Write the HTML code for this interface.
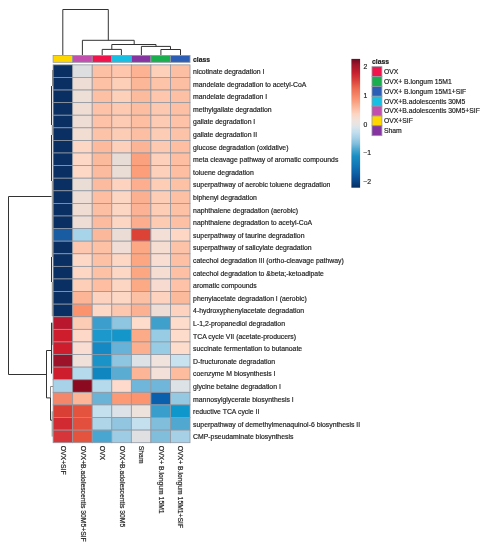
<!DOCTYPE html><html><head><meta charset="utf-8"><style>html,body{margin:0;padding:0;background:#fff;}svg{display:block;font-family:"Liberation Sans",sans-serif;will-change:transform;} text{stroke:#222;stroke-width:0.18px;}</style></head><body>
<svg width="486" height="550" viewBox="0 0 486 550">
<rect width="486" height="550" fill="#fff"/>
<rect x="53.10" y="64.85" width="19.56" height="12.60" fill="#0A2F62" stroke="#9298a2" stroke-width="0.8"/>
<rect x="72.66" y="64.85" width="19.56" height="12.60" fill="#DCDEDF" stroke="#9298a2" stroke-width="0.8"/>
<rect x="92.22" y="64.85" width="19.56" height="12.60" fill="#FDC0A5" stroke="#9298a2" stroke-width="0.8"/>
<rect x="111.78" y="64.85" width="19.56" height="12.60" fill="#FDC6AD" stroke="#9298a2" stroke-width="0.8"/>
<rect x="131.34" y="64.85" width="19.56" height="12.60" fill="#FCB293" stroke="#9298a2" stroke-width="0.8"/>
<rect x="150.90" y="64.85" width="19.56" height="12.60" fill="#FDD0BA" stroke="#9298a2" stroke-width="0.8"/>
<rect x="170.46" y="64.85" width="19.56" height="12.60" fill="#FDBFA3" stroke="#9298a2" stroke-width="0.8"/>
<rect x="53.10" y="77.44" width="19.56" height="12.60" fill="#0A2F62" stroke="#9298a2" stroke-width="0.8"/>
<rect x="72.66" y="77.44" width="19.56" height="12.60" fill="#EDDDD5" stroke="#9298a2" stroke-width="0.8"/>
<rect x="92.22" y="77.44" width="19.56" height="12.60" fill="#FDC1A6" stroke="#9298a2" stroke-width="0.8"/>
<rect x="111.78" y="77.44" width="19.56" height="12.60" fill="#FDCFB9" stroke="#9298a2" stroke-width="0.8"/>
<rect x="131.34" y="77.44" width="19.56" height="12.60" fill="#FCB698" stroke="#9298a2" stroke-width="0.8"/>
<rect x="150.90" y="77.44" width="19.56" height="12.60" fill="#FDC4AA" stroke="#9298a2" stroke-width="0.8"/>
<rect x="170.46" y="77.44" width="19.56" height="12.60" fill="#FDBFA3" stroke="#9298a2" stroke-width="0.8"/>
<rect x="53.10" y="90.04" width="19.56" height="12.60" fill="#0A2F62" stroke="#9298a2" stroke-width="0.8"/>
<rect x="72.66" y="90.04" width="19.56" height="12.60" fill="#EDDED6" stroke="#9298a2" stroke-width="0.8"/>
<rect x="92.22" y="90.04" width="19.56" height="12.60" fill="#FDC0A5" stroke="#9298a2" stroke-width="0.8"/>
<rect x="111.78" y="90.04" width="19.56" height="12.60" fill="#FDD0BA" stroke="#9298a2" stroke-width="0.8"/>
<rect x="131.34" y="90.04" width="19.56" height="12.60" fill="#FDBB9E" stroke="#9298a2" stroke-width="0.8"/>
<rect x="150.90" y="90.04" width="19.56" height="12.60" fill="#FDC6AD" stroke="#9298a2" stroke-width="0.8"/>
<rect x="170.46" y="90.04" width="19.56" height="12.60" fill="#FDC0A5" stroke="#9298a2" stroke-width="0.8"/>
<rect x="53.10" y="102.63" width="19.56" height="12.60" fill="#0A2F62" stroke="#9298a2" stroke-width="0.8"/>
<rect x="72.66" y="102.63" width="19.56" height="12.60" fill="#EFDDD4" stroke="#9298a2" stroke-width="0.8"/>
<rect x="92.22" y="102.63" width="19.56" height="12.60" fill="#FDC2A7" stroke="#9298a2" stroke-width="0.8"/>
<rect x="111.78" y="102.63" width="19.56" height="12.60" fill="#FDC9B1" stroke="#9298a2" stroke-width="0.8"/>
<rect x="131.34" y="102.63" width="19.56" height="12.60" fill="#FDBDA1" stroke="#9298a2" stroke-width="0.8"/>
<rect x="150.90" y="102.63" width="19.56" height="12.60" fill="#FDC8B0" stroke="#9298a2" stroke-width="0.8"/>
<rect x="170.46" y="102.63" width="19.56" height="12.60" fill="#FDC0A5" stroke="#9298a2" stroke-width="0.8"/>
<rect x="53.10" y="115.23" width="19.56" height="12.60" fill="#0A2F62" stroke="#9298a2" stroke-width="0.8"/>
<rect x="72.66" y="115.23" width="19.56" height="12.60" fill="#EEDDD4" stroke="#9298a2" stroke-width="0.8"/>
<rect x="92.22" y="115.23" width="19.56" height="12.60" fill="#FDC2A7" stroke="#9298a2" stroke-width="0.8"/>
<rect x="111.78" y="115.23" width="19.56" height="12.60" fill="#FDCAB3" stroke="#9298a2" stroke-width="0.8"/>
<rect x="131.34" y="115.23" width="19.56" height="12.60" fill="#FDBEA2" stroke="#9298a2" stroke-width="0.8"/>
<rect x="150.90" y="115.23" width="19.56" height="12.60" fill="#FDCBB4" stroke="#9298a2" stroke-width="0.8"/>
<rect x="170.46" y="115.23" width="19.56" height="12.60" fill="#FDC2A7" stroke="#9298a2" stroke-width="0.8"/>
<rect x="53.10" y="127.82" width="19.56" height="12.60" fill="#0A2F62" stroke="#9298a2" stroke-width="0.8"/>
<rect x="72.66" y="127.82" width="19.56" height="12.60" fill="#F2DDD3" stroke="#9298a2" stroke-width="0.8"/>
<rect x="92.22" y="127.82" width="19.56" height="12.60" fill="#FDC3A8" stroke="#9298a2" stroke-width="0.8"/>
<rect x="111.78" y="127.82" width="19.56" height="12.60" fill="#FDCCB5" stroke="#9298a2" stroke-width="0.8"/>
<rect x="131.34" y="127.82" width="19.56" height="12.60" fill="#FDBFA3" stroke="#9298a2" stroke-width="0.8"/>
<rect x="150.90" y="127.82" width="19.56" height="12.60" fill="#FDCCB5" stroke="#9298a2" stroke-width="0.8"/>
<rect x="170.46" y="127.82" width="19.56" height="12.60" fill="#FDC3A8" stroke="#9298a2" stroke-width="0.8"/>
<rect x="53.10" y="140.42" width="19.56" height="12.60" fill="#0A2F62" stroke="#9298a2" stroke-width="0.8"/>
<rect x="72.66" y="140.42" width="19.56" height="12.60" fill="#FDD6C4" stroke="#9298a2" stroke-width="0.8"/>
<rect x="92.22" y="140.42" width="19.56" height="12.60" fill="#FDBA9D" stroke="#9298a2" stroke-width="0.8"/>
<rect x="111.78" y="140.42" width="19.56" height="12.60" fill="#FDD0BC" stroke="#9298a2" stroke-width="0.8"/>
<rect x="131.34" y="140.42" width="19.56" height="12.60" fill="#FCB496" stroke="#9298a2" stroke-width="0.8"/>
<rect x="150.90" y="140.42" width="19.56" height="12.60" fill="#FDC9B1" stroke="#9298a2" stroke-width="0.8"/>
<rect x="170.46" y="140.42" width="19.56" height="12.60" fill="#FDBEA2" stroke="#9298a2" stroke-width="0.8"/>
<rect x="53.10" y="153.01" width="19.56" height="12.60" fill="#0A2F62" stroke="#9298a2" stroke-width="0.8"/>
<rect x="72.66" y="153.01" width="19.56" height="12.60" fill="#FDD8C6" stroke="#9298a2" stroke-width="0.8"/>
<rect x="92.22" y="153.01" width="19.56" height="12.60" fill="#FCBA9D" stroke="#9298a2" stroke-width="0.8"/>
<rect x="111.78" y="153.01" width="19.56" height="12.60" fill="#E8DCD6" stroke="#9298a2" stroke-width="0.8"/>
<rect x="131.34" y="153.01" width="19.56" height="12.60" fill="#FCA17D" stroke="#9298a2" stroke-width="0.8"/>
<rect x="150.90" y="153.01" width="19.56" height="12.60" fill="#FDD0BB" stroke="#9298a2" stroke-width="0.8"/>
<rect x="170.46" y="153.01" width="19.56" height="12.60" fill="#FDBEA2" stroke="#9298a2" stroke-width="0.8"/>
<rect x="53.10" y="165.61" width="19.56" height="12.60" fill="#0A2F62" stroke="#9298a2" stroke-width="0.8"/>
<rect x="72.66" y="165.61" width="19.56" height="12.60" fill="#FDD8C6" stroke="#9298a2" stroke-width="0.8"/>
<rect x="92.22" y="165.61" width="19.56" height="12.60" fill="#FCBB9E" stroke="#9298a2" stroke-width="0.8"/>
<rect x="111.78" y="165.61" width="19.56" height="12.60" fill="#EADDD6" stroke="#9298a2" stroke-width="0.8"/>
<rect x="131.34" y="165.61" width="19.56" height="12.60" fill="#FB9E79" stroke="#9298a2" stroke-width="0.8"/>
<rect x="150.90" y="165.61" width="19.56" height="12.60" fill="#FDD0BB" stroke="#9298a2" stroke-width="0.8"/>
<rect x="170.46" y="165.61" width="19.56" height="12.60" fill="#FDBEA2" stroke="#9298a2" stroke-width="0.8"/>
<rect x="53.10" y="178.20" width="19.56" height="12.60" fill="#0A2F62" stroke="#9298a2" stroke-width="0.8"/>
<rect x="72.66" y="178.20" width="19.56" height="12.60" fill="#EADDD6" stroke="#9298a2" stroke-width="0.8"/>
<rect x="92.22" y="178.20" width="19.56" height="12.60" fill="#FCBB9E" stroke="#9298a2" stroke-width="0.8"/>
<rect x="111.78" y="178.20" width="19.56" height="12.60" fill="#FDD3C0" stroke="#9298a2" stroke-width="0.8"/>
<rect x="131.34" y="178.20" width="19.56" height="12.60" fill="#FCAE8E" stroke="#9298a2" stroke-width="0.8"/>
<rect x="150.90" y="178.20" width="19.56" height="12.60" fill="#FDCDB6" stroke="#9298a2" stroke-width="0.8"/>
<rect x="170.46" y="178.20" width="19.56" height="12.60" fill="#FDC1A6" stroke="#9298a2" stroke-width="0.8"/>
<rect x="53.10" y="190.80" width="19.56" height="12.60" fill="#0A2F62" stroke="#9298a2" stroke-width="0.8"/>
<rect x="72.66" y="190.80" width="19.56" height="12.60" fill="#EDDDD4" stroke="#9298a2" stroke-width="0.8"/>
<rect x="92.22" y="190.80" width="19.56" height="12.60" fill="#FDBEA2" stroke="#9298a2" stroke-width="0.8"/>
<rect x="111.78" y="190.80" width="19.56" height="12.60" fill="#FDD5C3" stroke="#9298a2" stroke-width="0.8"/>
<rect x="131.34" y="190.80" width="19.56" height="12.60" fill="#FCB092" stroke="#9298a2" stroke-width="0.8"/>
<rect x="150.90" y="190.80" width="19.56" height="12.60" fill="#FDCDB6" stroke="#9298a2" stroke-width="0.8"/>
<rect x="170.46" y="190.80" width="19.56" height="12.60" fill="#FDC0A5" stroke="#9298a2" stroke-width="0.8"/>
<rect x="53.10" y="203.40" width="19.56" height="12.60" fill="#0A2F62" stroke="#9298a2" stroke-width="0.8"/>
<rect x="72.66" y="203.40" width="19.56" height="12.60" fill="#EFDDD4" stroke="#9298a2" stroke-width="0.8"/>
<rect x="92.22" y="203.40" width="19.56" height="12.60" fill="#FDBFA3" stroke="#9298a2" stroke-width="0.8"/>
<rect x="111.78" y="203.40" width="19.56" height="12.60" fill="#FDD5C3" stroke="#9298a2" stroke-width="0.8"/>
<rect x="131.34" y="203.40" width="19.56" height="12.60" fill="#FCB395" stroke="#9298a2" stroke-width="0.8"/>
<rect x="150.90" y="203.40" width="19.56" height="12.60" fill="#FDCDB6" stroke="#9298a2" stroke-width="0.8"/>
<rect x="170.46" y="203.40" width="19.56" height="12.60" fill="#FDC1A6" stroke="#9298a2" stroke-width="0.8"/>
<rect x="53.10" y="215.99" width="19.56" height="12.60" fill="#0A2F62" stroke="#9298a2" stroke-width="0.8"/>
<rect x="72.66" y="215.99" width="19.56" height="12.60" fill="#EDDDD5" stroke="#9298a2" stroke-width="0.8"/>
<rect x="92.22" y="215.99" width="19.56" height="12.60" fill="#FCBB9E" stroke="#9298a2" stroke-width="0.8"/>
<rect x="111.78" y="215.99" width="19.56" height="12.60" fill="#FDD5C3" stroke="#9298a2" stroke-width="0.8"/>
<rect x="131.34" y="215.99" width="19.56" height="12.60" fill="#FCAD8D" stroke="#9298a2" stroke-width="0.8"/>
<rect x="150.90" y="215.99" width="19.56" height="12.60" fill="#FDCAB2" stroke="#9298a2" stroke-width="0.8"/>
<rect x="170.46" y="215.99" width="19.56" height="12.60" fill="#FDC0A5" stroke="#9298a2" stroke-width="0.8"/>
<rect x="53.10" y="228.59" width="19.56" height="12.60" fill="#1A5CA2" stroke="#9298a2" stroke-width="0.8"/>
<rect x="72.66" y="228.59" width="19.56" height="12.60" fill="#A8D4EA" stroke="#9298a2" stroke-width="0.8"/>
<rect x="92.22" y="228.59" width="19.56" height="12.60" fill="#FCB89B" stroke="#9298a2" stroke-width="0.8"/>
<rect x="111.78" y="228.59" width="19.56" height="12.60" fill="#EBDDD6" stroke="#9298a2" stroke-width="0.8"/>
<rect x="131.34" y="228.59" width="19.56" height="12.60" fill="#DC4236" stroke="#9298a2" stroke-width="0.8"/>
<rect x="150.90" y="228.59" width="19.56" height="12.60" fill="#F4DFD6" stroke="#9298a2" stroke-width="0.8"/>
<rect x="170.46" y="228.59" width="19.56" height="12.60" fill="#FDD6C4" stroke="#9298a2" stroke-width="0.8"/>
<rect x="53.10" y="241.18" width="19.56" height="12.60" fill="#0A2F62" stroke="#9298a2" stroke-width="0.8"/>
<rect x="72.66" y="241.18" width="19.56" height="12.60" fill="#FDC7AF" stroke="#9298a2" stroke-width="0.8"/>
<rect x="92.22" y="241.18" width="19.56" height="12.60" fill="#FDC1A6" stroke="#9298a2" stroke-width="0.8"/>
<rect x="111.78" y="241.18" width="19.56" height="12.60" fill="#F0DED6" stroke="#9298a2" stroke-width="0.8"/>
<rect x="131.34" y="241.18" width="19.56" height="12.60" fill="#FCA884" stroke="#9298a2" stroke-width="0.8"/>
<rect x="150.90" y="241.18" width="19.56" height="12.60" fill="#F6DDD2" stroke="#9298a2" stroke-width="0.8"/>
<rect x="170.46" y="241.18" width="19.56" height="12.60" fill="#FDC3A8" stroke="#9298a2" stroke-width="0.8"/>
<rect x="53.10" y="253.78" width="19.56" height="12.60" fill="#0A2F62" stroke="#9298a2" stroke-width="0.8"/>
<rect x="72.66" y="253.78" width="19.56" height="12.60" fill="#FDD8C6" stroke="#9298a2" stroke-width="0.8"/>
<rect x="92.22" y="253.78" width="19.56" height="12.60" fill="#FDC1A6" stroke="#9298a2" stroke-width="0.8"/>
<rect x="111.78" y="253.78" width="19.56" height="12.60" fill="#FDD6C4" stroke="#9298a2" stroke-width="0.8"/>
<rect x="131.34" y="253.78" width="19.56" height="12.60" fill="#FCA682" stroke="#9298a2" stroke-width="0.8"/>
<rect x="150.90" y="253.78" width="19.56" height="12.60" fill="#F8DDD2" stroke="#9298a2" stroke-width="0.8"/>
<rect x="170.46" y="253.78" width="19.56" height="12.60" fill="#FDC0A5" stroke="#9298a2" stroke-width="0.8"/>
<rect x="53.10" y="266.37" width="19.56" height="12.60" fill="#0A2F62" stroke="#9298a2" stroke-width="0.8"/>
<rect x="72.66" y="266.37" width="19.56" height="12.60" fill="#FDD6C4" stroke="#9298a2" stroke-width="0.8"/>
<rect x="92.22" y="266.37" width="19.56" height="12.60" fill="#FDC1A6" stroke="#9298a2" stroke-width="0.8"/>
<rect x="111.78" y="266.37" width="19.56" height="12.60" fill="#FDD6C4" stroke="#9298a2" stroke-width="0.8"/>
<rect x="131.34" y="266.37" width="19.56" height="12.60" fill="#FCA682" stroke="#9298a2" stroke-width="0.8"/>
<rect x="150.90" y="266.37" width="19.56" height="12.60" fill="#F6DDD2" stroke="#9298a2" stroke-width="0.8"/>
<rect x="170.46" y="266.37" width="19.56" height="12.60" fill="#FDC0A5" stroke="#9298a2" stroke-width="0.8"/>
<rect x="53.10" y="278.97" width="19.56" height="12.60" fill="#0A2F62" stroke="#9298a2" stroke-width="0.8"/>
<rect x="72.66" y="278.97" width="19.56" height="12.60" fill="#FDCEB8" stroke="#9298a2" stroke-width="0.8"/>
<rect x="92.22" y="278.97" width="19.56" height="12.60" fill="#FDBEA2" stroke="#9298a2" stroke-width="0.8"/>
<rect x="111.78" y="278.97" width="19.56" height="12.60" fill="#FDD5C3" stroke="#9298a2" stroke-width="0.8"/>
<rect x="131.34" y="278.97" width="19.56" height="12.60" fill="#FCA985" stroke="#9298a2" stroke-width="0.8"/>
<rect x="150.90" y="278.97" width="19.56" height="12.60" fill="#F8DBD0" stroke="#9298a2" stroke-width="0.8"/>
<rect x="170.46" y="278.97" width="19.56" height="12.60" fill="#FDC2A7" stroke="#9298a2" stroke-width="0.8"/>
<rect x="53.10" y="291.56" width="19.56" height="12.60" fill="#0A2F62" stroke="#9298a2" stroke-width="0.8"/>
<rect x="72.66" y="291.56" width="19.56" height="12.60" fill="#FCB597" stroke="#9298a2" stroke-width="0.8"/>
<rect x="92.22" y="291.56" width="19.56" height="12.60" fill="#FDD2BE" stroke="#9298a2" stroke-width="0.8"/>
<rect x="111.78" y="291.56" width="19.56" height="12.60" fill="#FDD6C4" stroke="#9298a2" stroke-width="0.8"/>
<rect x="131.34" y="291.56" width="19.56" height="12.60" fill="#FCC0A4" stroke="#9298a2" stroke-width="0.8"/>
<rect x="150.90" y="291.56" width="19.56" height="12.60" fill="#FDD2BE" stroke="#9298a2" stroke-width="0.8"/>
<rect x="170.46" y="291.56" width="19.56" height="12.60" fill="#FCBA9D" stroke="#9298a2" stroke-width="0.8"/>
<rect x="53.10" y="304.15" width="19.56" height="12.60" fill="#0A2F62" stroke="#9298a2" stroke-width="0.8"/>
<rect x="72.66" y="304.15" width="19.56" height="12.60" fill="#FB946E" stroke="#9298a2" stroke-width="0.8"/>
<rect x="92.22" y="304.15" width="19.56" height="12.60" fill="#FDD8C6" stroke="#9298a2" stroke-width="0.8"/>
<rect x="111.78" y="304.15" width="19.56" height="12.60" fill="#FDC6AE" stroke="#9298a2" stroke-width="0.8"/>
<rect x="131.34" y="304.15" width="19.56" height="12.60" fill="#FCB193" stroke="#9298a2" stroke-width="0.8"/>
<rect x="150.90" y="304.15" width="19.56" height="12.60" fill="#EEDDD5" stroke="#9298a2" stroke-width="0.8"/>
<rect x="170.46" y="304.15" width="19.56" height="12.60" fill="#FDD3BF" stroke="#9298a2" stroke-width="0.8"/>
<rect x="53.10" y="316.75" width="19.56" height="12.60" fill="#B8172D" stroke="#9298a2" stroke-width="0.8"/>
<rect x="72.66" y="316.75" width="19.56" height="12.60" fill="#FDCCB5" stroke="#9298a2" stroke-width="0.8"/>
<rect x="92.22" y="316.75" width="19.56" height="12.60" fill="#3C9ECC" stroke="#9298a2" stroke-width="0.8"/>
<rect x="111.78" y="316.75" width="19.56" height="12.60" fill="#8EC6E1" stroke="#9298a2" stroke-width="0.8"/>
<rect x="131.34" y="316.75" width="19.56" height="12.60" fill="#FDDCCC" stroke="#9298a2" stroke-width="0.8"/>
<rect x="150.90" y="316.75" width="19.56" height="12.60" fill="#3FA0CC" stroke="#9298a2" stroke-width="0.8"/>
<rect x="170.46" y="316.75" width="19.56" height="12.60" fill="#FDDCCC" stroke="#9298a2" stroke-width="0.8"/>
<rect x="53.10" y="329.35" width="19.56" height="12.60" fill="#CE1D2D" stroke="#9298a2" stroke-width="0.8"/>
<rect x="72.66" y="329.35" width="19.56" height="12.60" fill="#FDD8C8" stroke="#9298a2" stroke-width="0.8"/>
<rect x="92.22" y="329.35" width="19.56" height="12.60" fill="#1C98CC" stroke="#9298a2" stroke-width="0.8"/>
<rect x="111.78" y="329.35" width="19.56" height="12.60" fill="#1596CA" stroke="#9298a2" stroke-width="0.8"/>
<rect x="131.34" y="329.35" width="19.56" height="12.60" fill="#FCAB89" stroke="#9298a2" stroke-width="0.8"/>
<rect x="150.90" y="329.35" width="19.56" height="12.60" fill="#98CCE4" stroke="#9298a2" stroke-width="0.8"/>
<rect x="170.46" y="329.35" width="19.56" height="12.60" fill="#FDDCCC" stroke="#9298a2" stroke-width="0.8"/>
<rect x="53.10" y="341.94" width="19.56" height="12.60" fill="#CE1D2D" stroke="#9298a2" stroke-width="0.8"/>
<rect x="72.66" y="341.94" width="19.56" height="12.60" fill="#FADDD2" stroke="#9298a2" stroke-width="0.8"/>
<rect x="92.22" y="341.94" width="19.56" height="12.60" fill="#1489C4" stroke="#9298a2" stroke-width="0.8"/>
<rect x="111.78" y="341.94" width="19.56" height="12.60" fill="#66B2D8" stroke="#9298a2" stroke-width="0.8"/>
<rect x="131.34" y="341.94" width="19.56" height="12.60" fill="#FCAF8E" stroke="#9298a2" stroke-width="0.8"/>
<rect x="150.90" y="341.94" width="19.56" height="12.60" fill="#98CCE4" stroke="#9298a2" stroke-width="0.8"/>
<rect x="170.46" y="341.94" width="19.56" height="12.60" fill="#FDDCCC" stroke="#9298a2" stroke-width="0.8"/>
<rect x="53.10" y="354.53" width="19.56" height="12.60" fill="#9C1228" stroke="#9298a2" stroke-width="0.8"/>
<rect x="72.66" y="354.53" width="19.56" height="12.60" fill="#F0E0DA" stroke="#9298a2" stroke-width="0.8"/>
<rect x="92.22" y="354.53" width="19.56" height="12.60" fill="#1A93C8" stroke="#9298a2" stroke-width="0.8"/>
<rect x="111.78" y="354.53" width="19.56" height="12.60" fill="#8EC6E1" stroke="#9298a2" stroke-width="0.8"/>
<rect x="131.34" y="354.53" width="19.56" height="12.60" fill="#DDE2E7" stroke="#9298a2" stroke-width="0.8"/>
<rect x="150.90" y="354.53" width="19.56" height="12.60" fill="#F0E2DC" stroke="#9298a2" stroke-width="0.8"/>
<rect x="170.46" y="354.53" width="19.56" height="12.60" fill="#C8E2F0" stroke="#9298a2" stroke-width="0.8"/>
<rect x="53.10" y="367.13" width="19.56" height="12.60" fill="#CE1D2D" stroke="#9298a2" stroke-width="0.8"/>
<rect x="72.66" y="367.13" width="19.56" height="12.60" fill="#B5DAEC" stroke="#9298a2" stroke-width="0.8"/>
<rect x="92.22" y="367.13" width="19.56" height="12.60" fill="#1086C0" stroke="#9298a2" stroke-width="0.8"/>
<rect x="111.78" y="367.13" width="19.56" height="12.60" fill="#5AACD3" stroke="#9298a2" stroke-width="0.8"/>
<rect x="131.34" y="367.13" width="19.56" height="12.60" fill="#FCB596" stroke="#9298a2" stroke-width="0.8"/>
<rect x="150.90" y="367.13" width="19.56" height="12.60" fill="#F3E0D8" stroke="#9298a2" stroke-width="0.8"/>
<rect x="170.46" y="367.13" width="19.56" height="12.60" fill="#FDBC9E" stroke="#9298a2" stroke-width="0.8"/>
<rect x="53.10" y="379.73" width="19.56" height="12.60" fill="#A8D2E8" stroke="#9298a2" stroke-width="0.8"/>
<rect x="72.66" y="379.73" width="19.56" height="12.60" fill="#8B0A1F" stroke="#9298a2" stroke-width="0.8"/>
<rect x="92.22" y="379.73" width="19.56" height="12.60" fill="#B5DAEC" stroke="#9298a2" stroke-width="0.8"/>
<rect x="111.78" y="379.73" width="19.56" height="12.60" fill="#FDDACB" stroke="#9298a2" stroke-width="0.8"/>
<rect x="131.34" y="379.73" width="19.56" height="12.60" fill="#70B6DA" stroke="#9298a2" stroke-width="0.8"/>
<rect x="150.90" y="379.73" width="19.56" height="12.60" fill="#70B6DA" stroke="#9298a2" stroke-width="0.8"/>
<rect x="170.46" y="379.73" width="19.56" height="12.60" fill="#DDE2E6" stroke="#9298a2" stroke-width="0.8"/>
<rect x="53.10" y="392.32" width="19.56" height="12.60" fill="#F4876A" stroke="#9298a2" stroke-width="0.8"/>
<rect x="72.66" y="392.32" width="19.56" height="12.60" fill="#FCB596" stroke="#9298a2" stroke-width="0.8"/>
<rect x="92.22" y="392.32" width="19.56" height="12.60" fill="#6AB3D7" stroke="#9298a2" stroke-width="0.8"/>
<rect x="111.78" y="392.32" width="19.56" height="12.60" fill="#FC9A75" stroke="#9298a2" stroke-width="0.8"/>
<rect x="131.34" y="392.32" width="19.56" height="12.60" fill="#FC9470" stroke="#9298a2" stroke-width="0.8"/>
<rect x="150.90" y="392.32" width="19.56" height="12.60" fill="#0A60AC" stroke="#9298a2" stroke-width="0.8"/>
<rect x="170.46" y="392.32" width="19.56" height="12.60" fill="#95C9E2" stroke="#9298a2" stroke-width="0.8"/>
<rect x="53.10" y="404.91" width="19.56" height="12.60" fill="#DA3F36" stroke="#9298a2" stroke-width="0.8"/>
<rect x="72.66" y="404.91" width="19.56" height="12.60" fill="#E4533E" stroke="#9298a2" stroke-width="0.8"/>
<rect x="92.22" y="404.91" width="19.56" height="12.60" fill="#C4E0EE" stroke="#9298a2" stroke-width="0.8"/>
<rect x="111.78" y="404.91" width="19.56" height="12.60" fill="#DCE2E8" stroke="#9298a2" stroke-width="0.8"/>
<rect x="131.34" y="404.91" width="19.56" height="12.60" fill="#EEE2DC" stroke="#9298a2" stroke-width="0.8"/>
<rect x="150.90" y="404.91" width="19.56" height="12.60" fill="#3A9ECC" stroke="#9298a2" stroke-width="0.8"/>
<rect x="170.46" y="404.91" width="19.56" height="12.60" fill="#0F96CA" stroke="#9298a2" stroke-width="0.8"/>
<rect x="53.10" y="417.51" width="19.56" height="12.60" fill="#D22A33" stroke="#9298a2" stroke-width="0.8"/>
<rect x="72.66" y="417.51" width="19.56" height="12.60" fill="#E2503D" stroke="#9298a2" stroke-width="0.8"/>
<rect x="92.22" y="417.51" width="19.56" height="12.60" fill="#AED5E8" stroke="#9298a2" stroke-width="0.8"/>
<rect x="111.78" y="417.51" width="19.56" height="12.60" fill="#92C6E0" stroke="#9298a2" stroke-width="0.8"/>
<rect x="131.34" y="417.51" width="19.56" height="12.60" fill="#C4E0EE" stroke="#9298a2" stroke-width="0.8"/>
<rect x="150.90" y="417.51" width="19.56" height="12.60" fill="#80BEDC" stroke="#9298a2" stroke-width="0.8"/>
<rect x="170.46" y="417.51" width="19.56" height="12.60" fill="#50A8D0" stroke="#9298a2" stroke-width="0.8"/>
<rect x="53.10" y="430.11" width="19.56" height="12.60" fill="#D6363A" stroke="#9298a2" stroke-width="0.8"/>
<rect x="72.66" y="430.11" width="19.56" height="12.60" fill="#E4533E" stroke="#9298a2" stroke-width="0.8"/>
<rect x="92.22" y="430.11" width="19.56" height="12.60" fill="#48A6D0" stroke="#9298a2" stroke-width="0.8"/>
<rect x="111.78" y="430.11" width="19.56" height="12.60" fill="#9DCCE4" stroke="#9298a2" stroke-width="0.8"/>
<rect x="131.34" y="430.11" width="19.56" height="12.60" fill="#E0E0E2" stroke="#9298a2" stroke-width="0.8"/>
<rect x="150.90" y="430.11" width="19.56" height="12.60" fill="#80BEDC" stroke="#9298a2" stroke-width="0.8"/>
<rect x="170.46" y="430.11" width="19.56" height="12.60" fill="#A6D0E6" stroke="#9298a2" stroke-width="0.8"/>
<rect x="53.10" y="55.4" width="19.56" height="6.90" fill="#FFD700" stroke="#9298a2" stroke-width="0.8"/>
<rect x="72.66" y="55.4" width="19.56" height="6.90" fill="#C24FAE" stroke="#9298a2" stroke-width="0.8"/>
<rect x="92.22" y="55.4" width="19.56" height="6.90" fill="#F0134C" stroke="#9298a2" stroke-width="0.8"/>
<rect x="111.78" y="55.4" width="19.56" height="6.90" fill="#17C0E3" stroke="#9298a2" stroke-width="0.8"/>
<rect x="131.34" y="55.4" width="19.56" height="6.90" fill="#8534A0" stroke="#9298a2" stroke-width="0.8"/>
<rect x="150.90" y="55.4" width="19.56" height="6.90" fill="#1AAE4E" stroke="#9298a2" stroke-width="0.8"/>
<rect x="170.46" y="55.4" width="19.56" height="6.90" fill="#2B5EB4" stroke="#9298a2" stroke-width="0.8"/>
<text x="193.1" y="74.05" font-size="6.86" fill="#222">nicotinate degradation I</text>
<text x="193.1" y="86.64" font-size="6.86" fill="#222">mandelate degradation to acetyl-CoA</text>
<text x="193.1" y="99.24" font-size="6.86" fill="#222">mandelate degradation I</text>
<text x="193.1" y="111.83" font-size="6.86" fill="#222">methylgallate degradation</text>
<text x="193.1" y="124.43" font-size="6.86" fill="#222">gallate degradation I</text>
<text x="193.1" y="137.02" font-size="6.86" fill="#222">gallate degradation II</text>
<text x="193.1" y="149.62" font-size="6.86" fill="#222">glucose degradation (oxidative)</text>
<text x="193.1" y="162.21" font-size="6.86" fill="#222">meta cleavage pathway of aromatic compounds</text>
<text x="193.1" y="174.81" font-size="6.86" fill="#222">toluene degradation</text>
<text x="193.1" y="187.40" font-size="6.86" fill="#222">superpathway of aerobic toluene degradation</text>
<text x="193.1" y="200.00" font-size="6.86" fill="#222">biphenyl degradation</text>
<text x="193.1" y="212.59" font-size="6.86" fill="#222">naphthalene degradation (aerobic)</text>
<text x="193.1" y="225.19" font-size="6.86" fill="#222">naphthalene degradation to acetyl-CoA</text>
<text x="193.1" y="237.78" font-size="6.86" fill="#222">superpathway of taurine degradation</text>
<text x="193.1" y="250.38" font-size="6.86" fill="#222">superpathway of salicylate degradation</text>
<text x="193.1" y="262.97" font-size="6.86" fill="#222">catechol degradation III (ortho-cleavage pathway)</text>
<text x="193.1" y="275.57" font-size="6.86" fill="#222">catechol degradation to &amp;beta;-ketoadipate</text>
<text x="193.1" y="288.16" font-size="6.86" fill="#222">aromatic compounds</text>
<text x="193.1" y="300.76" font-size="6.86" fill="#222">phenylacetate degradation I (aerobic)</text>
<text x="193.1" y="313.35" font-size="6.86" fill="#222">4-hydroxyphenylacetate degradation</text>
<text x="193.1" y="325.95" font-size="6.86" fill="#222">L-1,2-propanediol degradation</text>
<text x="193.1" y="338.54" font-size="6.86" fill="#222">TCA cycle VII (acetate-producers)</text>
<text x="193.1" y="351.14" font-size="6.86" fill="#222">succinate fermentation to butanoate</text>
<text x="193.1" y="363.73" font-size="6.86" fill="#222">D-fructuronate degradation</text>
<text x="193.1" y="376.33" font-size="6.86" fill="#222">coenzyme M biosynthesis I</text>
<text x="193.1" y="388.92" font-size="6.86" fill="#222">glycine betaine degradation I</text>
<text x="193.1" y="401.52" font-size="6.86" fill="#222">mannosylglycerate biosynthesis I</text>
<text x="193.1" y="414.11" font-size="6.86" fill="#222">reductive TCA cycle II</text>
<text x="193.1" y="426.71" font-size="6.86" fill="#222">superpathway of demethylmenaquinol-6 biosynthesis II</text>
<text x="193.1" y="439.30" font-size="6.86" fill="#222">CMP-pseudaminate biosynthesis</text>
<text x="193.1" y="62.00" font-size="6.8" font-weight="bold" fill="#222">class</text>
<text transform="translate(60.98,445.8) rotate(90)" font-size="6.8" fill="#222">OVX+SIF</text>
<text transform="translate(80.54,445.8) rotate(90)" font-size="6.8" fill="#222">OVX+B.adolescentis 30M5+SIF</text>
<text transform="translate(100.10,445.8) rotate(90)" font-size="6.8" fill="#222">OVX</text>
<text transform="translate(119.66,445.8) rotate(90)" font-size="6.8" fill="#222">OVX+B.adolescentis 30M5</text>
<text transform="translate(139.22,445.8) rotate(90)" font-size="6.8" fill="#222">Sham</text>
<text transform="translate(158.78,445.8) rotate(90)" font-size="6.8" fill="#222">OVX+ B.longum 15M1</text>
<text transform="translate(178.34,445.8) rotate(90)" font-size="6.8" fill="#222">OVX+ B.longum 15M1+SIF</text>
<path d="M102.20,55.00V49.40H121.40V55.00 M160.90,55.00V49.50H180.50V55.00 M141.40,55.00V46.40H170.50V49.50 M111.80,49.40V44.50H156.00V46.40 M82.40,55.00V40.30H134.20V44.50 M62.80,55.00V9.50H108.30V40.30" fill="none" stroke="#333" stroke-width="1"/>
<path d="M52.5,70 V86 M52.3,125 V135 M52.3,181 V257 M52.3,282 V316 M52.3,322.7 V345 M50.5,386.5 V397.9 M50.5,386.5 H53.1 M52.2,411.3 V436.6" fill="none" stroke="#8a8a8a" stroke-width="1"/>
<path d="M51.5,86 V125 M51.5,135 V181 M51.5,257 V282 M51.5,196.5 H8.5 V374.5 H46.5 M46.5,350.5 V397.9 M46.5,350.5 H51.5 M51.5,322.7 V373.6 M46.5,397.9 H50.5 M50.5,397.9 V420.2 M50.5,420.2 H52" fill="none" stroke="#333" stroke-width="1"/>
<defs><linearGradient id="g" x1="0" y1="0" x2="0" y2="1"><stop offset="0.000" stop-color="#6E0A22"/><stop offset="0.047" stop-color="#A0162A"/><stop offset="0.109" stop-color="#C8202E"/><stop offset="0.164" stop-color="#D8403A"/><stop offset="0.226" stop-color="#EC6A50"/><stop offset="0.304" stop-color="#F89070"/><stop offset="0.366" stop-color="#FBB396"/><stop offset="0.428" stop-color="#FDD5C3"/><stop offset="0.474" stop-color="#F0E2DC"/><stop offset="0.505" stop-color="#E8E4E2"/><stop offset="0.528" stop-color="#DCE4EA"/><stop offset="0.568" stop-color="#C2DFEE"/><stop offset="0.614" stop-color="#A6D0E6"/><stop offset="0.661" stop-color="#7EBCDC"/><stop offset="0.707" stop-color="#48A4CE"/><stop offset="0.754" stop-color="#1A8EC2"/><stop offset="0.832" stop-color="#1276B6"/><stop offset="0.878" stop-color="#0F64A8"/><stop offset="0.924" stop-color="#0C5098"/><stop offset="0.971" stop-color="#083C76"/><stop offset="1.000" stop-color="#062E60"/></linearGradient></defs>
<rect x="351.4" y="58.9" width="8.7" height="128.8" fill="url(#g)"/>
<text x="363.4" y="69.15" font-size="6.8" fill="#222">2</text>
<text x="363.4" y="97.85" font-size="6.8" fill="#222">1</text>
<text x="363.4" y="126.55" font-size="6.8" fill="#222">0</text>
<text x="363.4" y="155.25" font-size="6.8" fill="#222">−1</text>
<text x="363.4" y="183.95" font-size="6.8" fill="#222">−2</text>
<text x="372" y="64.3" font-size="6.8" font-weight="bold" fill="#222">class</text>
<rect x="372" y="66.70" width="9.9" height="9.85" fill="#F0134C" stroke="#9298a2" stroke-width="0.8"/>
<text x="383.9" y="74.03" font-size="6.8" fill="#222">OVX</text>
<rect x="372" y="76.55" width="9.9" height="9.85" fill="#1AAE4E" stroke="#9298a2" stroke-width="0.8"/>
<text x="383.9" y="83.88" font-size="6.8" fill="#222">OVX+ B.longum 15M1</text>
<rect x="372" y="86.40" width="9.9" height="9.85" fill="#2B5EB4" stroke="#9298a2" stroke-width="0.8"/>
<text x="383.9" y="93.73" font-size="6.8" fill="#222">OVX+ B.longum 15M1+SIF</text>
<rect x="372" y="96.25" width="9.9" height="9.85" fill="#17C0E3" stroke="#9298a2" stroke-width="0.8"/>
<text x="383.9" y="103.58" font-size="6.8" fill="#222">OVX+B.adolescentis 30M5</text>
<rect x="372" y="106.10" width="9.9" height="9.85" fill="#C24FAE" stroke="#9298a2" stroke-width="0.8"/>
<text x="383.9" y="113.42" font-size="6.8" fill="#222">OVX+B.adolescentis 30M5+SIF</text>
<rect x="372" y="115.95" width="9.9" height="9.85" fill="#FFD700" stroke="#9298a2" stroke-width="0.8"/>
<text x="383.9" y="123.28" font-size="6.8" fill="#222">OVX+SIF</text>
<rect x="372" y="125.80" width="9.9" height="9.85" fill="#8534A0" stroke="#9298a2" stroke-width="0.8"/>
<text x="383.9" y="133.12" font-size="6.8" fill="#222">Sham</text>
</svg></body></html>
